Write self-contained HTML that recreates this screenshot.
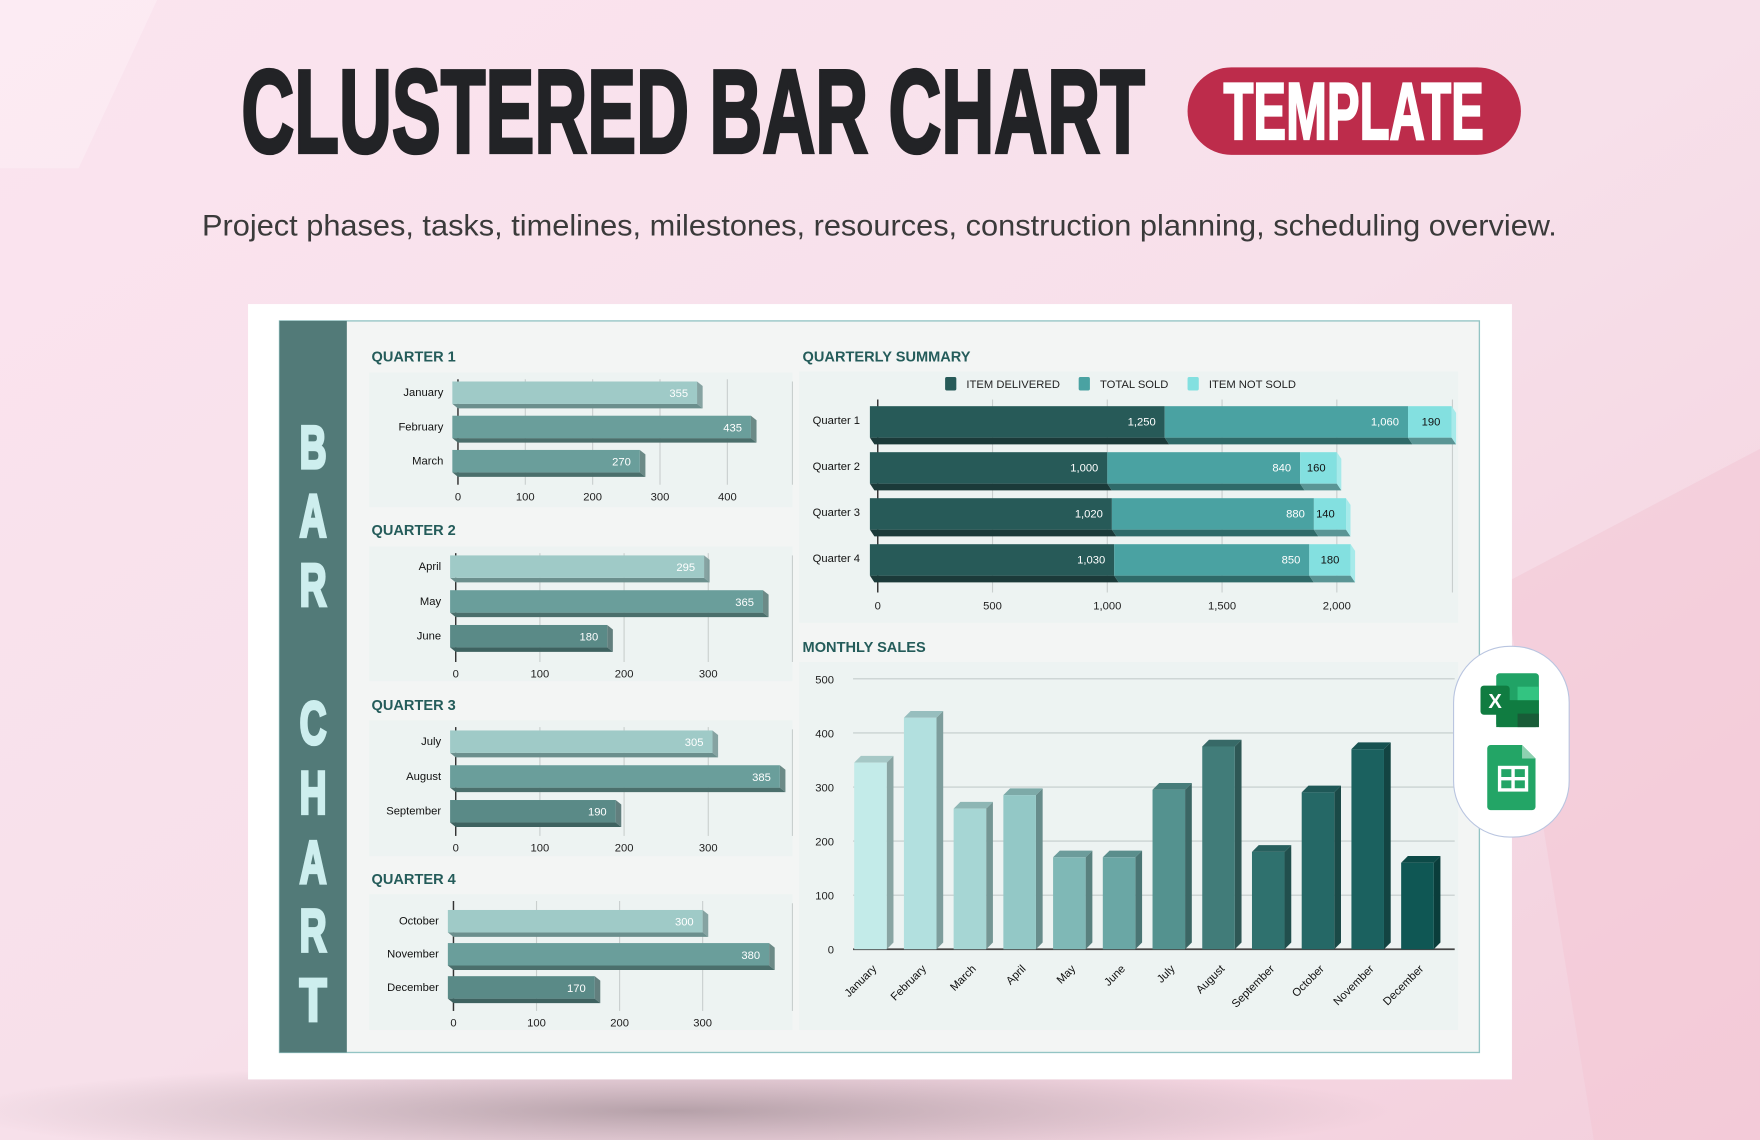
<!DOCTYPE html>
<html><head><meta charset="utf-8">
<style>
html,body{margin:0;padding:0;width:1760px;height:1140px;overflow:hidden;background:#f8e3ec;}
svg{display:block;font-family:"Liberation Sans",sans-serif;}
</style></head>
<body>
<svg id="root" width="1760" height="1140" viewBox="0 0 1568 1016" preserveAspectRatio="none" xmlns="http://www.w3.org/2000/svg">
<defs>
<linearGradient id="bg" x1="0" y1="0" x2="1" y2="1">
<stop offset="0" stop-color="#fbe4ef"/><stop offset="0.5" stop-color="#f7e0ea"/><stop offset="1" stop-color="#f3cfdc"/>
</linearGradient>
<radialGradient id="shadow" cx="0.5" cy="0.5" r="0.5">
<stop offset="0" stop-color="#8a7a80" stop-opacity="0.6"/><stop offset="1" stop-color="#9a8a90" stop-opacity="0"/>
</radialGradient>
</defs>
<rect x="0" y="0" width="1568" height="1016" fill="url(#bg)"/>
<polygon points="1340,520 1568,400 1568,1016 1420,1016" fill="#f4c6d4" opacity="0.5"/>
<polygon points="0,0 140,0 70,150 0,150" fill="#fff" opacity="0.25"/>
<ellipse cx="600" cy="990" rx="640" ry="45" fill="url(#shadow)"/>

<text x="215" y="136" textLength="805" lengthAdjust="spacingAndGlyphs" font-size="106" font-weight="bold" fill="#222326" stroke="#222326" stroke-width="3">CLUSTERED BAR CHART</text>
<rect x="1058" y="60" width="297" height="78" rx="39" fill="#bd2c4b"/>
<text x="1090" y="124" textLength="232" lengthAdjust="spacingAndGlyphs" font-size="72" font-weight="bold" fill="#fff" stroke="#fff" stroke-width="2">TEMPLATE</text>
<text x="180" y="210" textLength="1207" lengthAdjust="spacingAndGlyphs" font-size="26" fill="#3a3a3a">Project phases, tasks, timelines, milestones, resources, construction planning, scheduling overview.</text>

<rect x="221" y="271" width="1126" height="691" fill="#ffffff"/>
<rect x="249" y="286" width="1069" height="652" fill="#f3f5f4" stroke="#93c4c4" stroke-width="1.2"/>
<rect x="249" y="286" width="60" height="652" fill="#527a78"/>
<g id="sideLetters" font-weight="bold" fill="#cdeeee" stroke="#cdeeee" stroke-width="3" font-size="54" text-anchor="middle"></g>

<g id="charts"></g>

<rect x="1295" y="576" width="103" height="170" rx="50" fill="#fff" stroke="#b9c5e0" stroke-width="1"/>
<g>
<rect x="1333" y="600" width="38" height="48" rx="3" fill="#21a366"/>
<rect x="1333" y="624" width="38" height="24" fill="#107c41"/>
<rect x="1352" y="612" width="19" height="12" fill="#33c481"/>
<rect x="1352" y="636" width="19" height="12" fill="#185c37"/>
<rect x="1319" y="611" width="26" height="26" rx="3" fill="#107c41"/>
<text x="1332" y="631" font-size="18" font-weight="bold" fill="#fff" text-anchor="middle">X</text>
</g>
<g>
<path d="M1328,664 h28 l12,12 v43 a3,3 0 0 1 -3,3 h-37 a3,3 0 0 1 -3,-3 v-52 a3,3 0 0 1 3,-3z" fill="#23a566"/>
<path d="M1356,664 l12,12 h-12z" fill="#8ed1b1"/>
<rect x="1336" y="684" width="24" height="20" fill="none" stroke="#fff" stroke-width="3"/>
<line x1="1336" y1="694" x2="1360" y2="694" stroke="#fff" stroke-width="3"/>
<line x1="1348" y1="684" x2="1348" y2="704" stroke="#fff" stroke-width="3"/>
</g>
</svg>
<script>
// ---------- data ----------
const q1Months = ['January','February','March'];
const q1Values = [355, 435, 270];
const q2Months = ['April','May','June'];
const q2Values = [295, 365, 180];
const q3Months = ['July','August','September'];
const q3Values = [305, 385, 190];
const q4Months = ['October','November','December'];
const q4Values = [300, 380, 170];
const q1Ticks = [0,100,200,300,400];
const q2Ticks = [0,100,200,300];
const q3Ticks = [0,100,200,300];
const q4Ticks = [0,100,200,300];

const summaryCategories = ['Quarter 1','Quarter 2','Quarter 3','Quarter 4'];
const itemDelivered = [1250, 1000, 1020, 1030];
const totalSold = [1060, 840, 880, 850];
const itemNotSold = [190, 160, 140, 180];
const summaryTicks = [0,500,1000,1500,2000];
const summarySeriesNames = ['ITEM DELIVERED','TOTAL SOLD','ITEM NOT SOLD'];

const monthNames = ['January','February','March','April','May','June','July','August','September','October','November','December'];
const monthlySales = [345, 428, 260, 285, 170, 170, 295, 375, 180, 290, 370, 160];
const monthlyTicks = [0,100,200,300,400,500];

// ---------- helpers ----------
const NS = 'http://www.w3.org/2000/svg';
const charts = document.getElementById('charts');
function mk(tag, attrs, parent){
  const e = document.createElementNS(NS, tag);
  for (const k in attrs) e.setAttribute(k, attrs[k]);
  (parent || charts).appendChild(e);
  return e;
}
function fmt(v){ return v.toLocaleString('en-US'); }

// side letters
const sideText = ['B','A','R','C','H','A','R','T'];
const sideY = [417, 478, 540, 663, 725, 787, 848, 910];
const sl = document.getElementById('sideLetters');
sideText.forEach((ch,i)=>{
  const t = mk('text', {x:279, y:sideY[i], textLength:24, lengthAdjust:'spacingAndGlyphs'}, sl);
  t.textContent = ch;
  
  
});

// ---------- quarter charts ----------
const quarterCfg = [
  {title:'QUARTER 1', months:q1Months, vals:q1Values, ticks:q1Ticks, titleY:322, panelY:332, panelH:120, x0:408, ppu:0.6, barY:340, step:30.5, tickY:446},
  {title:'QUARTER 2', months:q2Months, vals:q2Values, ticks:q2Ticks, titleY:477, panelY:487, panelH:120, x0:406, ppu:0.75, barY:495, step:31, tickY:604},
  {title:'QUARTER 3', months:q3Months, vals:q3Values, ticks:q3Ticks, titleY:633, panelY:642, panelH:121, x0:406, ppu:0.75, barY:651, step:31, tickY:759},
  {title:'QUARTER 4', months:q4Months, vals:q4Values, ticks:q4Ticks, titleY:788, panelY:797, panelH:121, x0:404, ppu:0.74, barY:811, step:29.5, tickY:915}
];
const faceColors = ['#9fcac7','#6a9e9b','#5a8a87'];
const darkColors = ['#6b8f8d','#4b6f6c','#3e6260'];
quarterCfg.forEach((c, qi)=>{
  const t = mk('text', {x:331, y:c.titleY, 'font-size':13, 'font-weight':'bold', fill:'#245c5a'});
  t.textContent = c.title;
  
  
  const p = mk('rect', {x:329, y:c.panelY, width:377, height:c.panelH, fill:'#edf3f2'});
  
  
  const X = v => c.x0 + v * c.ppu;
  c.ticks.forEach(tv=>{
    const g = mk('line', {x1:X(tv), x2:X(tv), y1:c.panelY+6, y2:c.tickY-14, stroke: tv===0 ? '#333' : '#c9cfce', 'stroke-width': tv===0?1.3:1});
    
    
    const l = mk('text', {x:X(tv), y:c.tickY, 'font-size':10, fill:'#222', 'text-anchor':'middle'});
    l.textContent = tv;
    
    
  });
  const rl = mk('line', {x1:706, x2:706, y1:c.panelY+8, y2:c.tickY-14, stroke:'#c9cfce'});
  
  
  c.vals.forEach((v,i)=>{
    const y = c.barY + i*c.step;
    const xs = c.x0 - 5, xe = X(v);
    const colIdx = (qi===0 && i===2) ? 1 : i;
    const bottom = mk('polygon', {points:`${xs},${y+20} ${xe},${y+20} ${xe+5},${y+24} ${xs+5},${y+24}`, fill:darkColors[colIdx]});
    
    
    const side = mk('polygon', {points:`${xe},${y} ${xe+5},${y+4} ${xe+5},${y+24} ${xe},${y+20}`, fill:darkColors[colIdx], opacity:0.8});
    
    
    const b = mk('rect', {x:xs, y:y, width:xe-xs, height:20, fill:faceColors[colIdx]});
    
    
    const vl = mk('text', {x:xe-8, y:y+14, 'font-size':10, fill:'#fff', 'text-anchor':'end'});
    vl.textContent = v;
    
    
    const ml = mk('text', {x:c.x0-13, y:y+13, 'font-size':10, fill:'#111', 'text-anchor':'end'});
    ml.textContent = c.months[i];
    
    
  });
});

// ---------- quarterly summary ----------
(function(){
  const t = mk('text', {x:715, y:322, 'font-size':13, 'font-weight':'bold', fill:'#245c5a'});
  t.textContent = 'QUARTERLY SUMMARY';
  
  
  const p = mk('rect', {x:712, y:331, width:587, height:224, fill:'#edf3f2'});
  
  
  const cols = ['#275a58','#4aa2a2','#83e0e0'];
  const dcols = ['#1b3a39','#2f6a69','#5a9595'];
  const legX = [842, 961, 1058];
  summarySeriesNames.forEach((n,i)=>{
    const s = mk('rect', {x:legX[i], y:336, width:10, height:12, rx:1.5, fill:cols[i]});
    
    
    const l = mk('text', {x:legX[i]+19, y:346, 'font-size':10, fill:'#222'});
    l.textContent = n;
    
    
  });
  const x0 = 782, ppu = 0.2045;
  const X = v => x0 + v*ppu;
  summaryTicks.forEach(tv=>{
    const g = mk('line', {x1:X(tv), x2:X(tv), y1:356, y2:528, stroke: tv===0?'#333':'#c9cfce', 'stroke-width': tv===0?1.3:1});
    
    
    const l = mk('text', {x:X(tv), y:543, 'font-size':10, fill:'#222', 'text-anchor':'middle'});
    l.textContent = fmt(tv);
    
    
  });
  const rl = mk('line', {x1:1294, x2:1294, y1:356, y2:528, stroke:'#c9cfce'});
  
  
  const barYs = [362, 403, 444, 485];
  summaryCategories.forEach((cat,i)=>{
    const y = barYs[i];
    const segs = [itemDelivered[i], totalSold[i], itemNotSold[i]];
    let acc = 0;
    const xs = x0 - 7;
    segs.forEach((v,j)=>{
      const a = acc===0 ? xs : X(acc), b = X(acc+v);
      const d = mk('polygon', {points:`${a},${y+28} ${b},${y+28} ${b+4},${y+34} ${a+4},${y+34}`, fill:dcols[j]});
      
      
      const r = mk('rect', {x:a, y:y, width:b-a, height:28, fill:cols[j]});
      
      
      const l = mk('text', {x:b-(j===2?10:8), y:y+17, 'font-size':10, fill: j===2?'#111':'#fff', 'text-anchor':'end'});
      l.textContent = fmt(v);
      
      
      acc += v;
    });
    const e = X(acc);
    const side = mk('polygon', {points:`${e},${y} ${e+4},${y+6} ${e+4},${y+34} ${e},${y+28}`, fill:'#a6eaea'});
    
    
    const cl = mk('text', {x:724, y:y+16, 'font-size':10, fill:'#111'});
    cl.textContent = cat;
    
    
  });
})();

// ---------- monthly sales ----------
(function(){
  const t = mk('text', {x:715, y:581, 'font-size':13, 'font-weight':'bold', fill:'#245c5a'});
  t.textContent = 'MONTHLY SALES';
  
  
  const p = mk('rect', {x:712, y:590, width:587, height:328, fill:'#edf3f2'});
  
  
  const y0 = 846, ppu = 0.482;
  const Y = v => y0 - v*ppu;
  monthlyTicks.forEach(tv=>{
    const g = mk('line', {x1:760, x2:1296, y1:Y(tv), y2:Y(tv), stroke: tv===0?'#444':'#c3cccb', 'stroke-width': tv===0?1.5:1});
    
    
    const l = mk('text', {x:743, y:Y(tv)+4, 'font-size':10, fill:'#222', 'text-anchor':'end'});
    l.textContent = tv;
    
    
  });
  const faces = ['#c3ebe9','#b2e0df','#a6d6d4','#93c8c6','#7fb8b6','#6aa7a5','#54928f','#417c79','#2f716e','#256866','#1b615f','#0f5754'];
  const step = 44.3, firstC = 775.5, w = 29;
  monthNames.forEach((m,i)=>{
    const c = firstC + i*step;
    const x = c - w/2, top = Y(monthlySales[i]);
    const side = mk('polygon', {points:`${x+w},${top} ${x+w+6},${top-6} ${x+w+6},${y0-6} ${x+w},${y0}`, fill:faces[i]});
    side.setAttribute('style', 'filter:brightness(0.7)');
    
    
    const tp = mk('polygon', {points:`${x},${top} ${x+6},${top-6} ${x+w+6},${top-6} ${x+w},${top}`, fill:faces[i]});
    tp.setAttribute('style', 'filter:brightness(0.85)');
    
    
    const r = mk('rect', {x:x, y:top, width:w, height:y0-top, fill:faces[i]});
    
    
    const l = mk('text', {x:c+6, y:864, 'font-size':10, fill:'#111', 'text-anchor':'end', transform:`rotate(-45 ${c+6} 864)`});
    l.textContent = m;
    
    
  });
})();
</script>
</body></html>
